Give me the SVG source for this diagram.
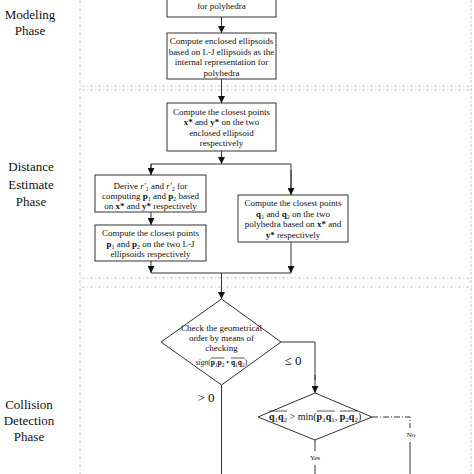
<svg xmlns="http://www.w3.org/2000/svg" width="474" height="474" viewBox="0 0 474 474">
<style>
.bg{fill:#fff}
.box{fill:#fff;stroke:#333;stroke-width:1}
.t{font-family:"Liberation Serif","Times New Roman",serif;font-size:9px;text-anchor:middle;fill:#111}
.f{font-family:"Liberation Serif","Times New Roman",serif;text-anchor:start;fill:#111}
.lab{font-family:"Liberation Serif","Times New Roman",serif;font-size:13px;text-anchor:middle;fill:#111}
.sm{font-family:"Liberation Serif","Times New Roman",serif;font-size:7px;text-anchor:middle;fill:#111}
.con{stroke:#333;stroke-width:1;fill:none}
.ov{stroke:#111;stroke-width:0.7;fill:none}
.sep{stroke:#c4c4c4;stroke-width:1;stroke-dasharray:3 2 1 2;fill:none}
.b{font-weight:bold}
</style>
<defs>
<marker id="ah" viewBox="0 0 8 8" refX="8" refY="4" markerWidth="7" markerHeight="7" markerUnits="userSpaceOnUse" orient="auto">
<path d="M0,0 L8,4 L0,8 Z" fill="#111"/>
</marker>
</defs>
<rect class="bg" x="0" y="0" width="474" height="474"/>

<g id="phase-separators">
<line class="sep" x1="80" y1="0" x2="80" y2="474"/>
<line class="sep" x1="471" y1="0" x2="471" y2="474"/>
<line class="sep" x1="82" y1="86" x2="474" y2="86"/>
<line class="sep" x1="82" y1="90" x2="474" y2="90"/>
<line class="sep" x1="82" y1="278" x2="474" y2="278"/>
<line class="sep" x1="82" y1="287" x2="474" y2="287"/>
</g>

<g id="phase-labels">
<text class="lab" x="30" y="19">Modeling</text>
<text class="lab" x="30" y="35">Phase</text>
<text class="lab" x="31" y="171">Distance</text>
<text class="lab" x="31" y="189">Estimate</text>
<text class="lab" x="31" y="206">Phase</text>
<text class="lab" x="29" y="409">Collision</text>
<text class="lab" x="29" y="425">Detection</text>
<text class="lab" x="29" y="441">Phase</text>
</g>

<g id="connectors">
<line class="con" x1="221.5" y1="17" x2="221.5" y2="33" marker-end="url(#ah)"/>
<line class="con" x1="221.5" y1="79" x2="221.5" y2="103" marker-end="url(#ah)"/>
<line class="con" x1="221.5" y1="151" x2="221.5" y2="164" marker-end="url(#ah)"/>
<polyline class="con" points="151,175 151,164 291,164 291,195"/>
<line class="con" x1="151" y1="164" x2="151" y2="175" marker-end="url(#ah)"/>
<line class="con" x1="291" y1="170" x2="291" y2="195" marker-end="url(#ah)"/>
<line class="con" x1="151" y1="212" x2="151" y2="225" marker-end="url(#ah)"/>
<line class="con" x1="151" y1="261" x2="151" y2="273" marker-end="url(#ah)"/>
<line class="con" x1="291" y1="242" x2="291" y2="273" marker-end="url(#ah)"/>
<line class="con" x1="151" y1="273" x2="291" y2="273"/>
<line class="con" x1="221.5" y1="273" x2="221.5" y2="299" marker-end="url(#ah)"/>
<polyline class="con" points="281,342 315,342 315,380"/>
<line class="con" x1="315" y1="375" x2="315" y2="393" marker-end="url(#ah)"/>
<line class="con" x1="221.5" y1="385" x2="221.5" y2="474"/>
<line class="con" x1="315" y1="440" x2="315" y2="451"/>
<line class="con" x1="315" y1="465" x2="315" y2="474"/>
<polyline class="con" points="372,417 410,417 410,428" stroke-dasharray="6 2 1 2"/>
<line class="con" x1="410" y1="442" x2="410" y2="474"/>
<text class="lab" x="206" y="402">&gt; 0</text>
<text class="lab" x="293" y="365">≤ 0</text>
<text class="sm" x="315" y="460">Yes</text>
<text class="sm" x="411" y="437">No</text>
</g>

<g id="node-top">
<rect class="box" x="167" y="-20" width="109" height="37"/>
<text class="t" x="221.5" y="9">for polyhedra</text>
</g>

<g id="node-enclosed">
<rect class="box" x="167" y="33" width="109" height="46"/>
<text class="t" x="221.5" y="44">Compute enclosed ellipsoids</text>
<text class="t" x="221.5" y="54.5">based on L-J ellipsoids as the</text>
<text class="t" x="221.5" y="65">internal representation for</text>
<text class="t" x="221.5" y="75.5">polyhedra</text>
</g>

<g id="node-closest-enclosed">
<rect class="box" x="167" y="103" width="109" height="48"/>
<text class="t" x="221.5" y="114.5">Compute the closest points</text>
<text class="t" x="221.5" y="125"><tspan class="b">x*</tspan> and <tspan class="b">y*</tspan> on the two</text>
<text class="t" x="221.5" y="135.5">enclosed ellipsoid</text>
<text class="t" x="221.5" y="146">respectively</text>
</g>

<g id="node-derive">
<rect class="box" x="95" y="175" width="111" height="37"/>
<text class="t" x="150.5" y="189">Derive <tspan font-style="italic">r'</tspan><tspan font-size="6" dy="2">1</tspan><tspan dy="-2"> and </tspan><tspan font-style="italic">r'</tspan><tspan font-size="6" dy="2">2</tspan><tspan dy="-2"> for</tspan></text>
<text class="t" x="150.5" y="199">computing <tspan class="b">p</tspan><tspan font-size="6" dy="2">1</tspan><tspan dy="-2">  and </tspan><tspan class="b">p</tspan><tspan font-size="6" dy="2">2</tspan><tspan dy="-2"> based</tspan></text>
<text class="t" x="150.5" y="209">on <tspan class="b">x*</tspan> and <tspan class="b">y*</tspan> respectively</text>
</g>

<g id="node-closest-lj">
<rect class="box" x="95" y="225" width="111" height="36"/>
<text class="t" x="150.5" y="236">Compute the closest points</text>
<text class="t" x="150.5" y="246.5"><tspan class="b">p</tspan><tspan font-size="6" dy="2">1</tspan><tspan dy="-2">  and </tspan><tspan class="b">p</tspan><tspan font-size="6" dy="2">2</tspan><tspan dy="-2"> on the two L-J</tspan></text>
<text class="t" x="150.5" y="257">ellipsoids  respectively</text>
</g>

<g id="node-closest-polyhedra">
<rect class="box" x="238" y="195" width="110" height="47"/>
<text class="t" x="293" y="206">Compute the closest points</text>
<text class="t" x="293" y="216.5"><tspan class="b">q</tspan><tspan font-size="6" dy="2">1</tspan><tspan dy="-2">  and </tspan><tspan class="b">q</tspan><tspan font-size="6" dy="2">2</tspan><tspan dy="-2"> on the two</tspan></text>
<text class="t" x="293" y="227">polyhedra based on <tspan class="b">x*</tspan> and</text>
<text class="t" x="293" y="237.5"><tspan class="b">y*</tspan> respectively</text>
</g>

<g id="node-check-order">
<polygon class="box" points="221.5,299 281,342 221.5,385 161,342"/>
<text class="t" x="221.5" y="331">Check the geometrical</text>
<text class="t" x="221.5" y="341">order by means of</text>
<text class="t" x="221.5" y="351">checking</text>
<text class="f" font-size="7.5" y="365"><tspan x="195.7" font-style="italic">sign</tspan><tspan x="208.2">(</tspan><tspan x="210.7" class="b">p</tspan><tspan x="214.9" font-size="5.5" dy="1.5">1</tspan><tspan x="217.6" dy="-1.5" class="b">p</tspan><tspan x="221.8" font-size="5.5" dy="1.5">2</tspan><tspan x="226.3" dy="-1.5">•</tspan><tspan x="230.9" class="b">q</tspan><tspan x="235.1" font-size="5.5" dy="1.5">1</tspan><tspan x="237.8" dy="-1.5" class="b">q</tspan><tspan x="242" font-size="5.5" dy="1.5">2</tspan><tspan x="244.7" dy="-1.5">)</tspan></text>
<line class="ov" x1="210.7" y1="358" x2="224.5" y2="358"/>
<line class="ov" x1="230.9" y1="358" x2="244.7" y2="358"/>
</g>

<g id="node-compare">
<polygon class="box" points="315,393 372,417 315,440 258,417"/>
<text class="f" font-size="10" y="420"><tspan x="269" class="b">q</tspan><tspan x="274.6" font-size="7" dy="2">1</tspan><tspan x="278.1" dy="-2" class="b">q</tspan><tspan x="283.6" font-size="7" dy="2">2</tspan><tspan x="289.6" dy="-2">&gt;</tspan><tspan x="297.7">min(</tspan><tspan x="316.6" class="b">p</tspan><tspan x="322.2" font-size="7" dy="2">1</tspan><tspan x="325.7" dy="-2" class="b">q</tspan><tspan x="331.3" font-size="7" dy="2">1</tspan><tspan x="334.8" dy="-2">,</tspan><tspan x="339.7" class="b">p</tspan><tspan x="345.3" font-size="7" dy="2">2</tspan><tspan x="348.8" dy="-2" class="b">q</tspan><tspan x="354.4" font-size="7" dy="2">2</tspan><tspan x="357.9" dy="-2">)</tspan></text>
<line class="ov" x1="269" y1="411" x2="287.1" y2="411"/>
<line class="ov" x1="316.6" y1="411" x2="334.7" y2="411"/>
<line class="ov" x1="339.7" y1="411" x2="357.8" y2="411"/>
</g>
</svg>
